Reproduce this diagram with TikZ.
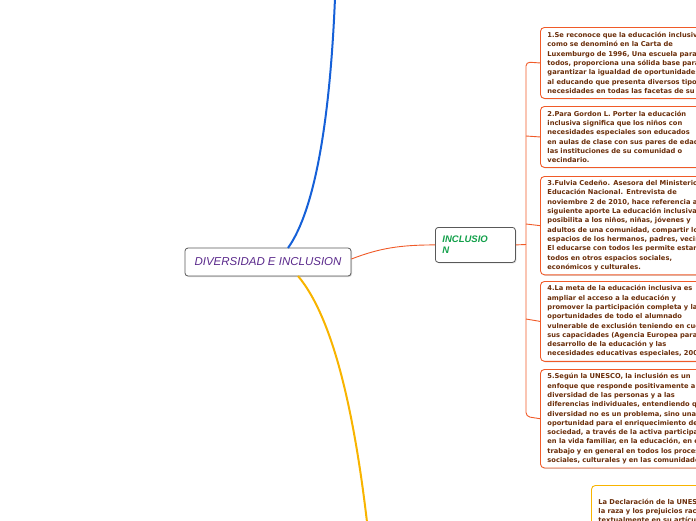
\documentclass[tikz,border=0pt]{standalone}
\usepackage{fontspec}
\setmainfont{DejaVu Sans}
\newfontfamily\lib{Liberation Sans}
\usetikzlibrary{shadows}
\definecolor{ob}{HTML}{F05A28}
\definecolor{tb}{HTML}{6B2E0A}
\definecolor{pu}{HTML}{5B2A8C}
\definecolor{gr}{HTML}{12A04A}
\definecolor{ye}{HTML}{F8B400}
\definecolor{bl}{HTML}{1560D8}
\tikzset{
 leaf/.style={draw=ob,line width=0.9pt,fill=white,rounded corners=4pt,anchor=north west,align=left,text width=190pt,inner xsep=7pt,inner ysep=4pt,font=\bfseries\fontsize{6.7}{9.3}\selectfont,text=tb,drop shadow={shadow xshift=1pt,shadow yshift=-1pt,opacity=0.3}},
 ylf/.style={leaf,draw=ye},
 conn/.style={ob,line width=0.9pt},
}
\begin{document}
\begin{tikzpicture}[x=1pt,y=-1pt]
\useasboundingbox (0,0) rectangle (696,520);
\clip (0,0) rectangle (696,520);
\node[leaf,minimum height=71pt] (b1) at (540,27) {1.Se reconoce que la educación inclusiva\\como se denominó en la Carta de\\Luxemburgo de 1996, Una escuela para\\todos, proporciona una sólida base para\\garantizar la igualdad de oportunidades\\al educando que presenta diversos tipos de\\necesidades en todas las facetas de su vida};
\node[leaf,minimum height=61pt] (b2) at (540,106) {2.Para Gordon L. Porter la educación\\inclusiva significa que los niños con\\necesidades especiales son educados\\ en aulas de clase con sus pares de edad en\\las instituciones de su comunidad o\\vecindario.};
\node[leaf,minimum height=96pt] (b3) at (540,176) {3.Fulvia Cedeño. Asesora del Ministerio de\\Educación Nacional. Entrevista de\\noviembre 2 de 2010, hace referencia al\\siguiente aporte La educación inclusiva\\posibilita a los niños, niñas, jóvenes y\\adultos de una comunidad,  compartir los\\espacios de los hermanos, padres, vecinos.\\El educarse con todos les permite estar con\\todos en  otros espacios sociales,\\económicos y culturales.};
\node[leaf,minimum height=77pt] (b4) at (540,281) {4.La meta de la educación inclusiva es\\ampliar el acceso a la educación  y\\promover la participación completa y las\\oportunidades de todo el alumnado\\vulnerable de exclusión teniendo en cuenta\\sus capacidades (Agencia Europea  para el\\desarrollo de la educación  y las\\necesidades educativas especiales, 2009).};
\node[leaf,minimum height=95pt] (b5) at (540,369) {5.Según la UNESCO, la inclusión es un\\enfoque que responde positivamente a la\\diversidad de las personas y a las\\diferencias individuales, entendiendo que la\\diversidad no es un problema, sino una\\oportunidad para el enriquecimiento de la\\sociedad, a través de la activa participación\\en la vida familiar, en la educación, en el\\trabajo y en general en todos los procesos\\sociales, culturales y en las comunidades.};
\node[ylf,minimum height=60pt] (y1) at (591,485) {La Declaración de la UNESCO sobre\\la raza y los prejuicios raciales dice\\textualmente en su artículo 1:\\1. "Todos los seres humanos};
\node[draw=gray!70!black,line width=0.8pt,fill=white,rounded corners=3pt,minimum width=166pt,minimum height=28pt,inner sep=2pt,font=\lib\itshape\fontsize{11.5}{13}\selectfont,text=pu,drop shadow={shadow xshift=1pt,shadow yshift=-1pt,opacity=0.3}] (c) at (268,262) {DIVERSIDAD E INCLUSION};
\node[draw=gray!70!black,line width=0.8pt,fill=white,rounded corners=3pt,anchor=north west,minimum width=80pt,minimum height=35pt,text width=66pt,align=left,inner xsep=7pt,font=\lib\bfseries\itshape\fontsize{9.5}{11}\selectfont,text=gr,drop shadow={shadow xshift=1pt,shadow yshift=-1pt,opacity=0.3}] (inc) at (435,227) {INCLUSIO\\N};
\coordinate (topend) at (335,-2);
\coordinate (botend) at (367,522);
\draw[bl,line width=2pt] (288,248) .. controls (315,210) and (330,120) .. (topend);
\draw[ye,line width=2pt] (298,276) .. controls (335,320) and (355,420) .. (botend);
\draw[conn] (c.east) ++(0,-3) .. controls (380,248) and (400,245) .. (inc.west);
\draw[conn] (inc.east) -- (526,244.5);
\draw[conn,rounded corners=4pt] (b1.west) -- (526,62) -- (526,416.5) -- (b5.west);
\draw[conn] (526,136) -- (b2.west);
\draw[conn] (526,224) -- (b3.west);
\draw[conn] (526,319) -- (b4.west);
\end{tikzpicture}
\end{document}
